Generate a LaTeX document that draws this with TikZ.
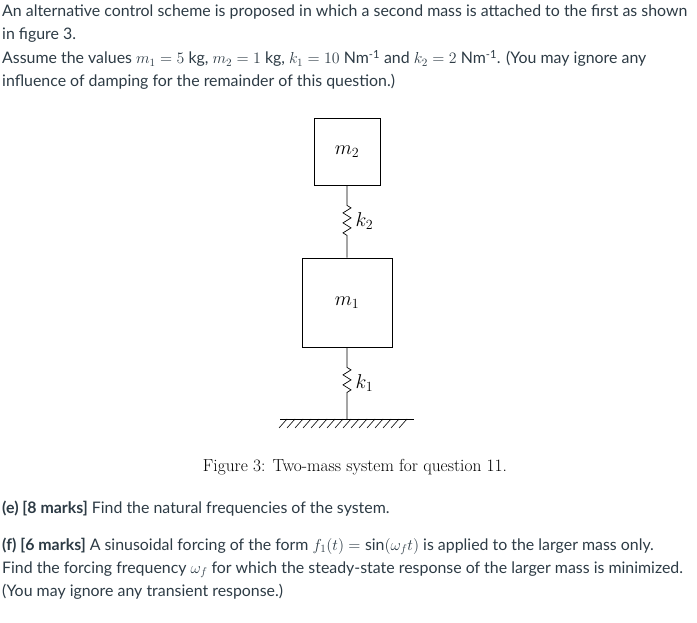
\RequirePackage{fix-cm}
\documentclass[tikz,border=0pt]{standalone}
\usepackage{fontspec}
\setmainfont{Lato}
\newfontfamily\lmr{Latin Modern Roman}
\usetikzlibrary{decorations.pathmorphing}
\definecolor{txt}{HTML}{2D3B45}
\begin{document}
\begin{tikzpicture}[x=1pt,y=-1pt,
  tx/.style={anchor=base west,inner sep=0,text=txt,font=\fontsize{15.9}{19}\selectfont},
  mass/.style={draw,line width=0.8pt,inner sep=0},
  spr/.style={line width=0.7pt,decorate,decoration={zigzag,segment length=10pt,amplitude=4pt,pre length=20pt,post length=22pt}},
  lbl/.style={font=\fontsize{20}{24}\selectfont}]
\useasboundingbox (0,0) rectangle (697,623);
\node[tx] (l1) at (2,17) {An alternative control scheme is proposed in which a second mass is attached to the first as shown};
\node[tx] (l2) at (2,40) {in figure 3.};
\node[tx] (l3) at (2,64) {Assume the values $m_1=5$ kg, $m_2=1$ kg, $k_1=10$ Nm\textsuperscript{-1} and $k_2=2$ Nm\textsuperscript{-1}. (You may ignore any};
\node[tx] (l4) at (2,87) {influence of damping for the remainder of this question.)};
\node[mass,minimum width=66pt,minimum height=67pt] (m2) at (347,151.5) {\fontsize{20}{24}\selectfont $m_2$};
\node[mass,minimum width=90pt,minimum height=89pt] (m1) at (347,302.5) {\fontsize{20}{24}\selectfont $m_1$};
\coordinate (g) at (347,419);
\draw[spr] (m2.south) -- (m1.north) node[midway,right=5pt,lbl]{$k_2$};
\draw[spr] (m1.south) -- (g) node[midway,right=5pt,lbl]{$k_1$};
\draw[line width=0.8pt] (280,419) -- (414,419);
\foreach \i in {0,...,15} \draw[line width=0.6pt] (287+8*\i,419) -- ++(-8,9);
\node[anchor=base,inner sep=0,font=\lmr\fontsize{17.4}{20}\selectfont] (cap) at (355,471) {Figure 3: Two-mass system for question 11.};
\node[tx] (e) at (2,513) {\textbf{(e) [8 marks]} Find the natural frequencies of the system.};
\node[tx] (f1) at (2,550) {\textbf{(f) [6 marks]} A sinusoidal forcing of the form $f_1(t)=\sin(\omega_f t)$ is applied to the larger mass only.};
\node[tx] (f2) at (2,573) {Find the forcing frequency $\omega_f$ for which the steady-state response of the larger mass is minimized.};
\node[tx] (f3) at (2,596) {(You may ignore any transient response.)};
\end{tikzpicture}
\end{document}
